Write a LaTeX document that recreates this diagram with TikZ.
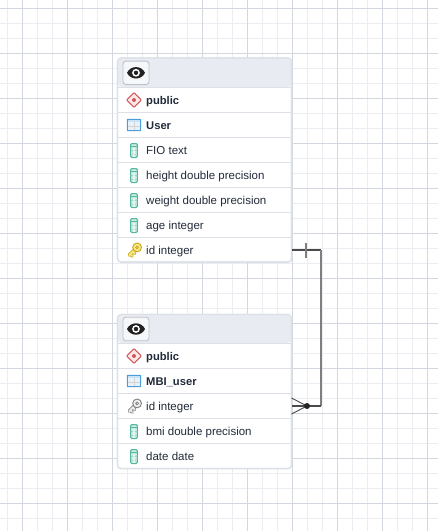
\documentclass[tikz,border=0pt]{standalone}
\usepackage{fontspec}
\setmainfont{Liberation Sans}
\definecolor{gridminor}{HTML}{ECEDF3}
\definecolor{gridmajor}{HTML}{D3D7E0}
\definecolor{tableborder}{HTML}{DDE0E7}
\definecolor{headerfill}{HTML}{E8EBF1}
\definecolor{inktext}{HTML}{222B3A}
\definecolor{eyeink}{HTML}{222222}
\definecolor{colline}{HTML}{55B79F}
\definecolor{colfill}{HTML}{C9EBE2}
\definecolor{redline}{HTML}{D5575B}
\definecolor{redfill}{HTML}{FBE9E9}
\definecolor{blueline}{HTML}{4A9FE2}
\definecolor{bluefill}{HTML}{EAF2F9}
\definecolor{goldline}{HTML}{C9A516}
\definecolor{goldfill}{HTML}{F9E98C}
\definecolor{grayline}{HTML}{7F7F7F}
\definecolor{grayfill}{HTML}{EFEFEF}
\definecolor{linkdark}{HTML}{4A4A4A}
\tikzset{
  rowtext/.style={anchor=west,inner sep=0pt,font=\fontsize{11.5pt}{13pt}\selectfont,text=inktext,text height=8pt,text depth=2.5pt},
  rowbold/.style={rowtext,font=\bfseries\fontsize{11.2pt}{13pt}\selectfont},
  rowrule/.style={draw=tableborder,line width=1.1pt},
  pics/colicon/.style={code={
    \draw[colline,fill=colfill,line width=1pt,rounded corners=1.2pt] (-3.3,-7) rectangle (3.3,7);
    \draw[colline,line width=1pt] (-3.3,-4) -- (3.3,-4);
    \draw[colline!55,line width=.6pt] (-3.3,0) -- (3.3,0) (-3.3,3.5) -- (3.3,3.5);
    \fill[white,opacity=.55] (-1,-3) rectangle (1,6);
  }},
  pics/schemaicon/.style={code={
    \draw[redline,fill=redfill,line width=1pt,line join=round,rounded corners=.8pt] (0,-7.4) -- (7.4,0) -- (0,7.4) -- (-7.4,0) -- cycle;
    \fill[redline] (0,0) circle (2);
  }},
  pics/tableicon/.style={code={
    \draw[blueline!60,line width=.6pt,fill=bluefill] (-6.7,-5.7) rectangle (6.7,5.7);
    \draw[gray!35,line width=.8pt] (0,-3) -- (0,5.7) (-6.7,1.2) -- (6.7,1.2);
    \fill[blueline!30] (-6.7,-5.7) rectangle (6.7,-3.2);
    \draw[blueline,line width=1pt,rounded corners=.6pt] (-6.7,-5.7) rectangle (6.7,5.7);
  }},
  pics/keyicon/.style 2 args={code={
    \draw[#1,line width=3.6pt,line cap=round] (2.5,-2.5) -- (-5.2,5.2);
    \draw[#1,line width=3pt,line cap=round] (-4.2,4.2) -- (-2.2,6.2) (-1.6,1.6) -- (.4,3.6);
    \draw[#2,line width=2pt,line cap=round] (2.5,-2.5) -- (-5.2,5.2);
    \draw[#2,line width=1.5pt,line cap=round] (-4.2,4.2) -- (-2.2,6.2) (-1.6,1.6) -- (.4,3.6);
    \draw[#1,fill=#2,line width=.9pt] (2.6,-2.6) circle (4.4);
    \draw[#1,line width=.8pt] (2.6,-2.6) circle (1.4);
  }},
  pics/eyeicon/.style={code={
    \fill[eyeink] (-9,0) .. controls (-5.5,-7.6) and (5.5,-7.6) .. (9,0) .. controls (5.5,7.6) and (-5.5,7.6) .. (-9,0) -- cycle;
    \fill[white] (0,0) circle (3.9);
    \fill[eyeink] (0,0) circle (2.2);
  }},
  eyebutton/.style={draw=gridmajor!90!black,fill=headerfill!40,line width=.9pt,rounded corners=3pt,minimum width=26pt,minimum height=23.5pt,inner sep=0pt},
  tableframe/.style={draw=tableborder,fill=white,line width=1.1pt,rounded corners=3.5pt,minimum width=174pt,inner sep=0pt},
}
\begin{document}
\begin{tikzpicture}[x=1pt,y=-1pt]
\useasboundingbox (0,0) rectangle (438,531);
\fill[white] (0,0) rectangle (438,531);
% grid
\foreach \i in {0,...,29} {
  \draw[gridminor,line width=1pt] ({7.5+15*\i},0) -- ({7.5+15*\i},531);
}
\foreach \i in {0,...,35} {
  \draw[gridminor,line width=1pt] (0,{8.5+15*\i}) -- (438,{8.5+15*\i});
}
\foreach \i in {0,...,9} {
  \draw[gridmajor,line width=1pt] ({22.5+45*\i},0) -- ({22.5+45*\i},531);
}
\foreach \i in {0,...,11} {
  \draw[gridmajor,line width=1pt] (0,{8.5+45*\i}) -- (438,{8.5+45*\i});
}
% shadows
\fill[gridmajor,opacity=.18,rounded corners=4pt] (117,60) rectangle (292.5,263.2);
\fill[gridmajor,opacity=.18,rounded corners=4pt] (117,316) rectangle (292.5,469.7);
% table 1
\node[tableframe,minimum height=204pt] (tableA) at (204.5,160) {};
\fill[headerfill,rounded corners=3.5pt] (118,58.5) -- (291,58.5) -- (291,87) -- (118,87) -- cycle;
\draw[rowrule] (118,87.5) -- (291,87.5) (118,112.5) -- (291,112.5) (118,137.5) -- (291,137.5) (118,162.5) -- (291,162.5) (118,187.5) -- (291,187.5) (118,212.5) -- (291,212.5) (118,237.5) -- (291,237.5);
\draw[tableborder,line width=1.1pt,rounded corners=3.5pt] (117.5,58) rectangle (291.5,262);
\node[eyebutton] (eyeA) at (136,72.8) {};
\pic at (eyeA.center) {eyeicon};
\pic at (134,100) {schemaicon};
\pic at (134,125) {tableicon};
\pic at (134,150.5) {colicon};
\pic at (134,175.5) {colicon};
\pic at (134,200.5) {colicon};
\pic at (134,225.5) {colicon};
\pic at (134.5,250) {keyicon={goldline}{goldfill}};
\node[rowbold] (a1) at (146,101.4) {public};
\node[rowbold] (a2) at (146,126.4) {User};
\node[rowtext] (a3) at (146,151.4) {FIO text};
\node[rowtext] (a4) at (146,176.4) {height double precision};
\node[rowtext] (a5) at (146,201.4) {weight double precision};
\node[rowtext] (a6) at (146,226.4) {age integer};
\node[rowtext] (a7) at (146,251.4) {id integer};
\coordinate (startA) at (291.5,250);
% table 2
\node[tableframe,minimum height=154pt] (tableB) at (204.5,391.5) {};
\fill[headerfill,rounded corners=3.5pt] (118,315) -- (291,315) -- (291,343) -- (118,343) -- cycle;
\draw[rowrule] (118,343.5) -- (291,343.5) (118,368.5) -- (291,368.5) (118,393.5) -- (291,393.5) (118,418.5) -- (291,418.5) (118,443.5) -- (291,443.5);
\draw[tableborder,line width=1.1pt,rounded corners=3.5pt] (117.5,314.5) rectangle (291.5,468.5);
\node[eyebutton] (eyeB) at (136,329) {};
\pic at (eyeB.center) {eyeicon};
\pic at (134,356) {schemaicon};
\pic at (134,381) {tableicon};
\pic at (134.5,406) {keyicon={grayline}{grayfill}};
\pic at (134,431.5) {colicon};
\pic at (134,456.5) {colicon};
\node[rowbold] (b1) at (146,357.4) {public};
\node[rowbold] (b2) at (146,382.4) {MBI\_user};
\node[rowtext] (b3) at (146,407.4) {id integer};
\node[rowtext] (b4) at (146,432.4) {bmi double precision};
\node[rowtext] (b5) at (146,457.4) {date date};
\coordinate (endB) at (291.5,406);
% connector
\coordinate (cornerA) at (321,250);
\coordinate (cornerB) at (321,406);
\coordinate (hub) at (307,406);
\coordinate (barTop) at (306,242.5);
\coordinate (barBot) at (306,258);
\coordinate (footUp) at (291.5,398);
\coordinate (footDown) at (291.5,414);
\draw[linkdark,line width=1.4pt] (startA) -- (cornerA);
\draw[grayline,line width=1.6pt] (cornerA) -- (cornerB);
\draw[linkdark,line width=1.4pt] (cornerB) -- (endB);
\draw[grayline,line width=1.3pt] (barTop) -- (barBot);
\draw[linkdark,line width=.9pt] (hub) -- (footUp) (hub) -- (footDown);
\fill[black!85] (hub) circle (3);
\end{tikzpicture}
\end{document}
